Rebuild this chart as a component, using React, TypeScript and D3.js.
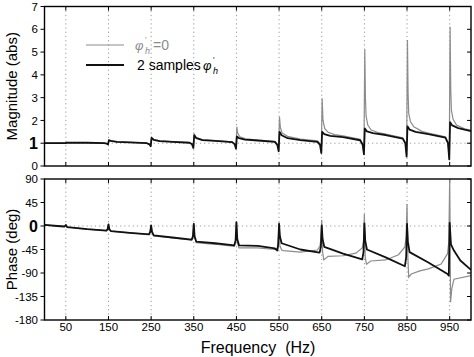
import React from "react";
import * as d3 from "d3";

const harmonics = [50, 150, 250, 350, 450, 550, 650, 750, 850, 950];
const magTicks = [0, 1, 2, 3, 4, 5, 6, 7];
const phaseTicks = [90, 45, 0, -45, -90, -135, -180];

const magBlack: [number, number][] = [
  [0, 1.0], [40, 1.0], [50, 1.0], [52, 1.03], [100, 1.02], [140, 1.0], [146, 0.98], [149, 0.95],
  [151, 1.13], [155, 1.1], [170, 1.06], [200, 1.04], [240, 1.0], [246, 0.95], [249, 0.87],
  [251, 1.23], [256, 1.15], [270, 1.09], [300, 1.06], [340, 1.02], [346, 0.95], [349, 0.79],
  [351, 1.35], [356, 1.22], [370, 1.14], [400, 1.1], [440, 1.05], [446, 0.95], [449, 0.76],
  [451, 1.3], [456, 1.22], [470, 1.16], [500, 1.12], [540, 1.06], [546, 0.92], [549, 0.64],
  [551, 1.5], [556, 1.35], [570, 1.22], [600, 1.14], [640, 1.06], [646, 0.93], [649, 0.57],
  [651, 1.5], [656, 1.4], [670, 1.32], [700, 1.27], [740, 1.13], [746, 0.93], [749, 0.51],
  [751, 1.65], [756, 1.52], [770, 1.44], [800, 1.36], [840, 1.2], [846, 1.0], [849, 0.41],
  [851, 1.74], [856, 1.6], [870, 1.5], [900, 1.4], [940, 1.25], [946, 1.0], [949, 0.29],
  [951, 1.92], [956, 1.78], [970, 1.66], [1000, 1.53],
];

const magGray: [number, number][] = [
  [0, 1.0], [40, 1.0], [50, 1.0], [52, 1.03], [100, 1.02], [140, 1.0], [146, 0.98], [149, 0.96],
  [151, 1.15], [155, 1.1], [170, 1.06], [200, 1.04], [240, 1.0], [246, 0.96], [249, 0.89],
  [251, 1.26], [256, 1.16], [270, 1.1], [300, 1.07], [340, 1.03], [346, 0.97], [349, 0.82],
  [351, 1.4], [356, 1.25], [370, 1.16], [400, 1.11], [440, 1.06], [446, 0.97], [449, 0.8],
  [451, 1.72], [453, 1.45], [458, 1.28], [470, 1.2], [500, 1.14], [540, 1.08], [546, 0.96], [549, 0.7],
  [551, 2.16], [553, 1.7], [557, 1.45], [570, 1.3], [600, 1.18], [640, 1.1], [646, 0.98], [649, 0.65],
  [651, 2.97], [653, 2.0], [657, 1.65], [665, 1.48], [680, 1.38], [700, 1.32], [740, 1.17], [746, 0.98], [749, 0.6],
  [751, 5.12], [752.5, 3.0], [754, 2.2], [758, 1.8], [766, 1.58], [785, 1.45], [800, 1.4], [840, 1.24], [846, 1.03], [849, 0.5],
  [851, 5.53], [852.5, 3.2], [854, 2.3], [858, 1.95], [866, 1.72], [885, 1.52], [900, 1.45], [940, 1.28], [946, 1.03], [949, 0.38],
  [951, 6.11], [952.5, 3.4], [954, 2.45], [958, 2.05], [966, 1.8], [985, 1.63], [1000, 1.57],
];

const phaseBlack: [number, number][] = [
  [0, 2], [30, 0], [47, -1], [50, 2], [53, -2], [100, -6], [145, -9], [148, -6], [150, 3], [152, -6], [156, -10],
  [200, -13], [245, -16], [248, -11], [250, 1], [252, -11], [256, -18], [300, -22], [345, -26], [348, -20], [350, 4], [352, -20], [356, -30],
  [400, -33], [445, -37], [448, -28], [450, 7], [452, -25], [456, -37], [500, -38], [540, -43], [546, -47], [548, -35], [550, 4],
  [552, -20], [556, -33], [600, -45], [645, -51], [648, -40], [650, 1], [652, -25], [656, -40], [700, -53], [745, -64], [748, -50], [750, 5],
  [752, -28], [756, -45], [800, -60], [845, -77], [848, -60], [850, 4], [852, -30], [856, -50], [900, -70], [945, -92], [948, -95],
  [950, 6], [953, -35], [960, -47], [975, -66], [1000, -84],
];

const phaseGray: [number, number][] = [
  [0, 2], [30, 0], [47, -1], [50, 2], [53, -2], [100, -6], [145, -9], [148, -6], [150, 3], [152, -7], [156, -10],
  [200, -13], [245, -16], [248, -10], [250, 2], [252, -12], [256, -19], [300, -23], [345, -27], [348, -20], [350, 5], [352, -22], [356, -32],
  [400, -35], [445, -39], [448, -28], [450, 9], [452, -30], [456, -42], [500, -42], [540, -45], [546, -42], [548, -30], [550, 7],
  [552, -38], [556, -46], [560, -47], [600, -50], [640, -46], [646, -38], [648, -25], [650, 12], [652, -50], [655, -65],
  [665, -58], [700, -57], [730, -52], [745, -42], [748, -30], [750, 23], [752, -60], [755, -73],
  [765, -67], [800, -65], [830, -55], [845, -40], [848, -20], [850, 42], [852, -60], [854, -98],
  [860, -92], [880, -86], [900, -82], [930, -73], [945, -53], [948, -30], [950, 90], [951, 0],
  [952, -146], [955, -120], [960, -102], [1000, -95],
];

const W = 474;
const H = 357;
const left = 44.5;
const right = 471;
const top1 = 6.5;
const bot1 = 166;
const top2 = 179;
const bot2 = 320;
const FONT = "'Liberation Sans', Arial, sans-serif";

function Phi({ x, y, color }: { x: number; y: number; color: string }) {
  return (
    <g fill={color}>
      <text x={x} y={y} fontFamily={FONT} fontStyle="italic" fontSize={13}>φ</text>
      <text x={x + 10} y={y - 8} fontFamily={FONT} fontSize={8}>′</text>
      <text x={x + 10} y={y + 4} fontFamily={FONT} fontStyle="italic" fontSize={9}>h</text>
    </g>
  );
}

export default function App() {
  const x = d3.scaleLinear().domain([0, 1000]).range([left, right]);
  const yM = d3.scaleLinear().domain([0, 7]).range([bot1, top1]);
  const yP = d3.scaleLinear().domain([-180, 90]).range([bot2, top2]);

  const lineM = d3.line<[number, number]>().x((d) => x(d[0])).y((d) => yM(d[1]));
  const lineP = d3.line<[number, number]>().x((d) => x(d[0])).y((d) => yP(d[1]));

  const grid = "#9a9a9a";

  const panel = (yT: number, yB: number) => (
    <g>
      {harmonics.map((h) => (
        <g key={h}>
          <line x1={x(h)} x2={x(h)} y1={yT} y2={yB} stroke={grid} strokeWidth={1} strokeDasharray="1.2,3" />
          <line x1={x(h)} x2={x(h)} y1={yT} y2={yT + 4} stroke="#000" strokeWidth={1} />
          <line x1={x(h)} x2={x(h)} y1={yB} y2={yB - 4} stroke="#000" strokeWidth={1} />
        </g>
      ))}
    </g>
  );

  return (
    <svg width={W} height={H} style={{ display: "block", position: "absolute", left: 0, top: 0, background: "#fff" }}>
      <defs>
        <clipPath id="c1"><rect x={left} y={top1} width={right - left} height={bot1 - top1} /></clipPath>
        <clipPath id="c2"><rect x={left} y={top2} width={right - left} height={bot2 - top2} /></clipPath>
      </defs>
      <rect x={0} y={0} width={W} height={H} fill="#fff" />

      {/* top panel */}
      {panel(top1, bot1)}
      <line x1={left} x2={right} y1={yM(1)} y2={yM(1)} stroke={grid} strokeWidth={1} strokeDasharray="1.2,3" />
      <g clipPath="url(#c1)">
        <path d={lineM(magGray) || ""} fill="none" stroke="#8c8c8c" strokeWidth={1.2} />
        <path d={lineM(magBlack) || ""} fill="none" stroke="#111" strokeWidth={1.8} strokeLinejoin="round" />
      </g>
      {magTicks.map((t) => (
        <g key={t}>
          <line x1={left - 4} x2={left} y1={yM(t)} y2={yM(t)} stroke="#000" strokeWidth={1} />
          <line x1={right - 4} x2={right} y1={yM(t)} y2={yM(t)} stroke="#000" strokeWidth={1} />
          <text x={38} y={yM(t)} dy="0.36em" textAnchor="end" fontFamily={FONT}
            fontSize={t === 1 ? 16 : 11.5} fontWeight={t === 1 ? "bold" : "normal"} fill="#000">{t}</text>
        </g>
      ))}
      <rect x={left} y={top1} width={right - left} height={bot1 - top1} fill="none" stroke="#000" strokeWidth={1.4} />

      {/* legend */}
      <line x1={86} x2={124} y1={45} y2={45} stroke="#8c8c8c" strokeWidth={1.2} />
      <Phi x={135} y={50} color="#8c8c8c" />
      <text x={153} y={50} fontFamily={FONT} fontSize={14} fill="#8c8c8c">=0</text>
      <line x1={86} x2={124} y1={65} y2={65} stroke="#111" strokeWidth={1.8} />
      <text x={137} y={70} fontFamily={FONT} fontSize={14} fill="#000">2 samples</text>
      <Phi x={203} y={70} color="#000" />

      {/* bottom panel */}
      {panel(top2, bot2)}
      <line x1={left} x2={right} y1={yP(0)} y2={yP(0)} stroke={grid} strokeWidth={1} strokeDasharray="1.2,3" />
      <g clipPath="url(#c2)">
        <path d={lineP(phaseGray) || ""} fill="none" stroke="#8c8c8c" strokeWidth={1.2} />
        <path d={lineP(phaseBlack) || ""} fill="none" stroke="#111" strokeWidth={1.8} strokeLinejoin="round" />
      </g>
      {phaseTicks.map((t) => (
        <g key={t}>
          <line x1={left - 4} x2={left} y1={yP(t)} y2={yP(t)} stroke="#000" strokeWidth={1} />
          <line x1={right - 4} x2={right} y1={yP(t)} y2={yP(t)} stroke="#000" strokeWidth={1} />
          <text x={38} y={yP(t)} dy="0.36em" textAnchor="end" fontFamily={FONT}
            fontSize={t === 0 ? 16 : 11.5} fontWeight={t === 0 ? "bold" : "normal"} fill="#000">{t}</text>
        </g>
      ))}
      <rect x={left} y={top2} width={right - left} height={bot2 - top2} fill="none" stroke="#000" strokeWidth={1.4} />

      {harmonics.map((h) => (
        <text key={h} x={x(h)} y={331} textAnchor="middle" fontFamily={FONT} fontSize={11.5} fill="#000">{h}</text>
      ))}

      <text x={258} y={353} textAnchor="middle" fontFamily={FONT} fontSize={16} fill="#000" xmlSpace="preserve">Frequency  (Hz)</text>
      <text transform={`translate(17,${(top1 + bot1) / 2}) rotate(-90)`} textAnchor="middle" fontFamily={FONT} fontSize={15} fill="#000">Magnitude (abs)</text>
      <text transform={`translate(17,${(top2 + bot2) / 2}) rotate(-90)`} textAnchor="middle" fontFamily={FONT} fontSize={15} fill="#000">Phase (deg)</text>
    </svg>
  );
}
